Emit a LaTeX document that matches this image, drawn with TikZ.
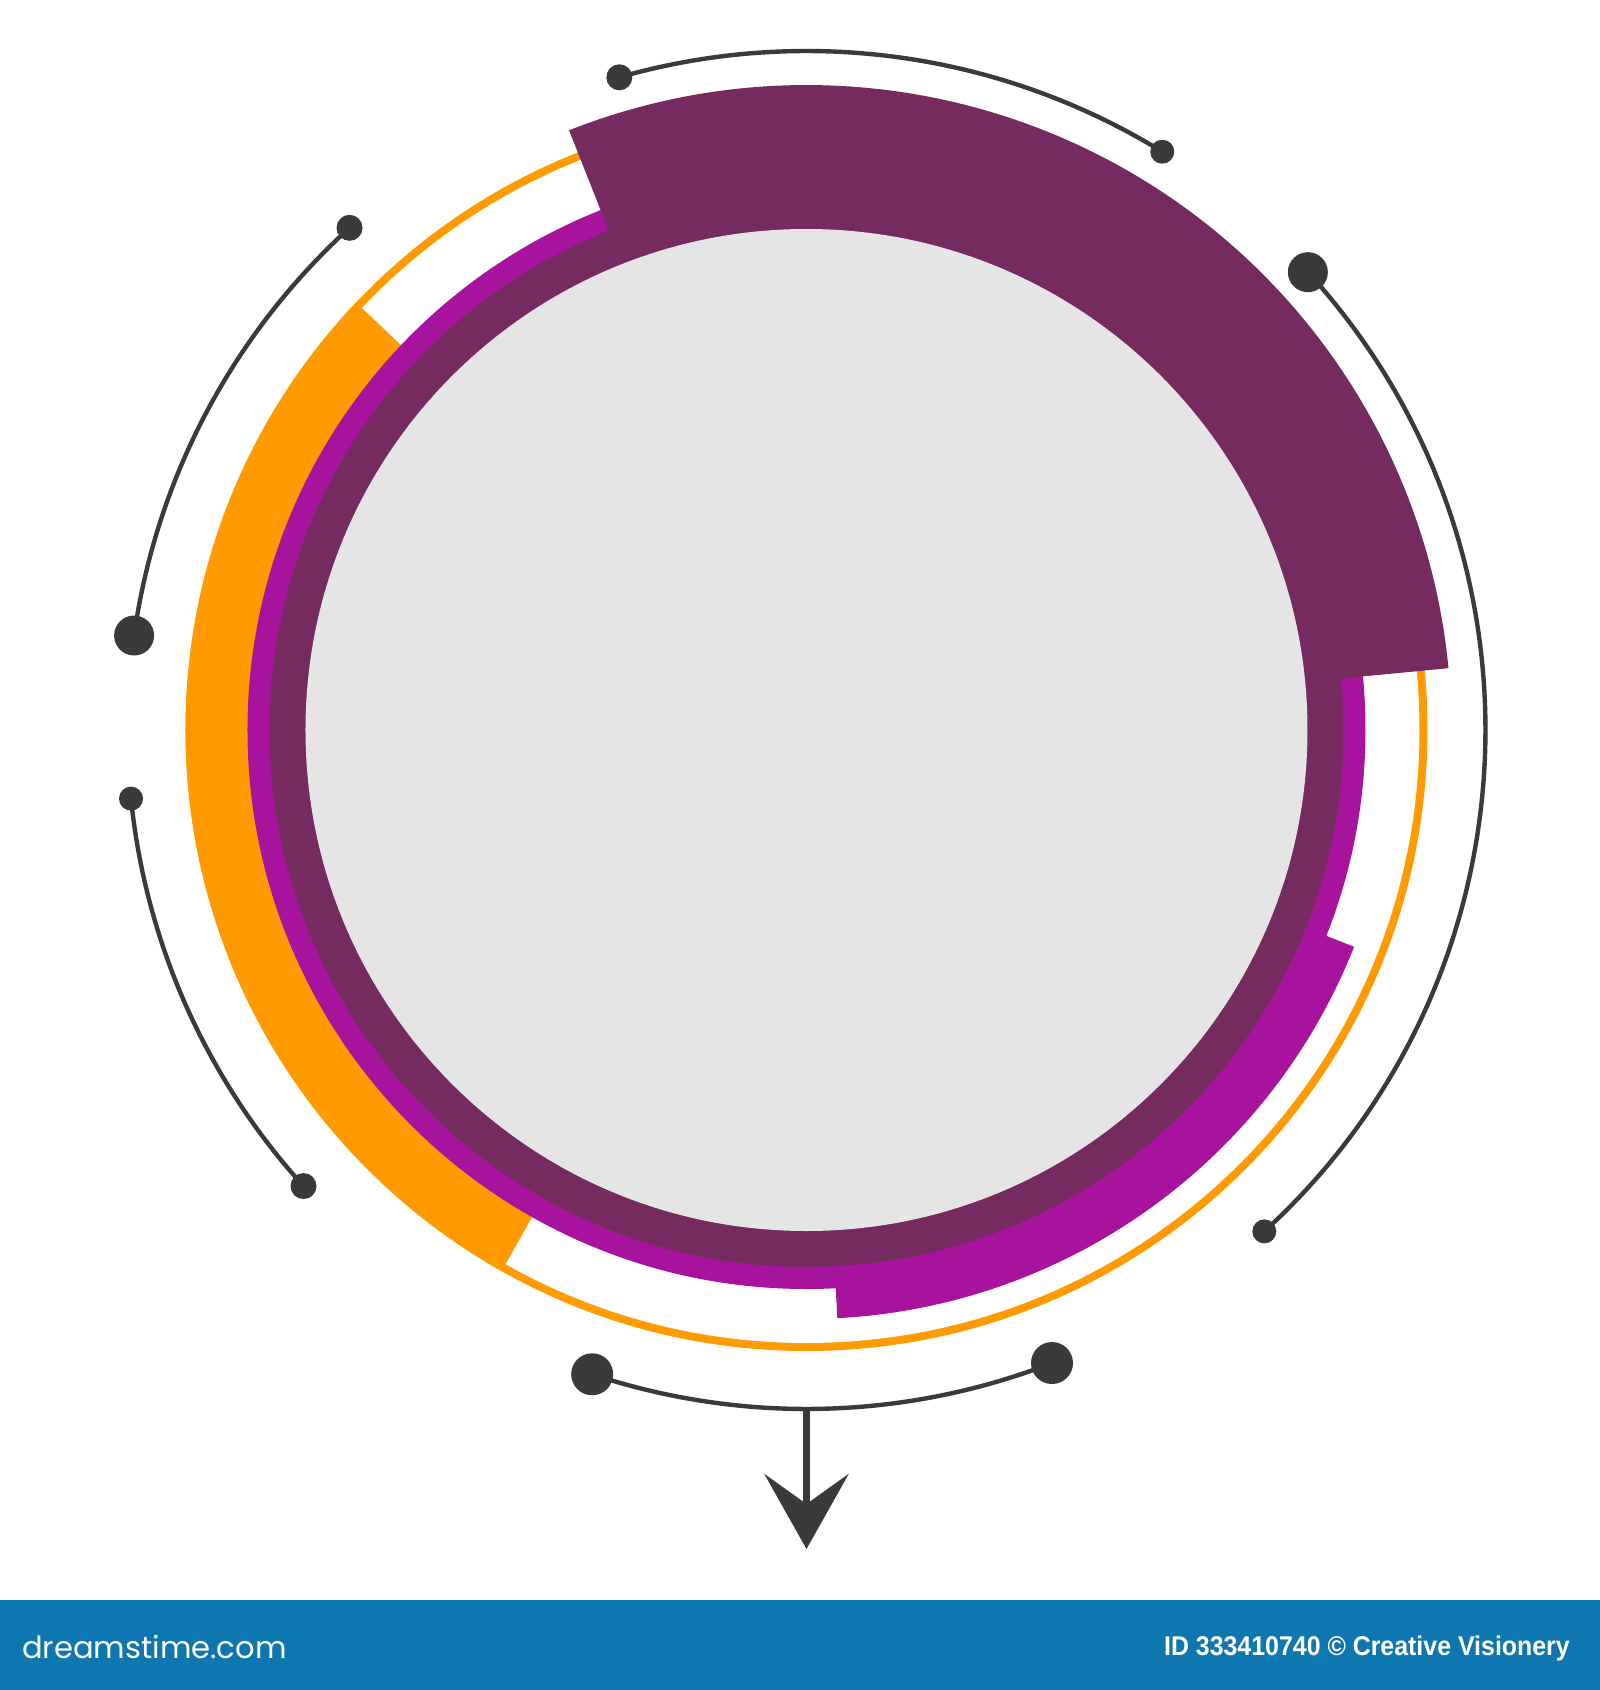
\documentclass[tikz,border=0pt]{standalone}
\usepackage{fontspec}
\usepackage{graphicx}
\usepackage{tikz}
\usetikzlibrary{arrows.meta}
\newfontfamily\logofont{Poppins}
\newfontfamily\idfont{Liberation Sans}
\definecolor{ringgray}{HTML}{E5E5E5}
\definecolor{plum}{HTML}{752A60}
\definecolor{mag}{HTML}{A8139E}
\definecolor{amber}{HTML}{FF9A00}
\definecolor{ink}{HTML}{3A3A3A}
\definecolor{barblue}{HTML}{0F77B0}

\begin{document}
\begin{tikzpicture}[x=0.01cm,y=0.01cm,wire/.style={ink,line width=1.25pt}]
        \useasboundingbox (-806.5,-960) rectangle (793.5,730);
        \fill[amber](0,0)circle(621);
        \fill[white](0,0)circle(613);
        \fill[amber](0,0)--(136.5:621)arc[start angle=136.5,end angle=240.6,radius=621]--cycle;
        \fill[mag](0,0)--(-87:589)arc[start angle=-87,end angle=-21.6,radius=589]--cycle;
        \fill[mag](0,0)circle(559);
        \fill[plum](0,0)circle(537);
        \fill[plum](0,0)--(5.5:645)arc[start angle=5.5,end angle=111.6,radius=645]--cycle;
        \fill[ringgray](0,0)circle(501);
        \draw[wire](106:679)arc[start angle=106,end angle=58.4,radius=679];
        \fill[ink](106:679)circle(13)(58.4:679)circle(12);
        \draw[wire](42.4:679)arc[start angle=42.4,end angle=-47.6,radius=679];
        \fill[ink](42.4:679)circle(20)(-47.6:679)circle(12);
        \draw[wire](132.3:679)arc[start angle=132.3,end angle=172,radius=679];
        \fill[ink](132.3:679)circle(13)(172:679)circle(20);
        \draw[wire](185.8:679)arc[start angle=185.8,end angle=222.2,radius=679];
        \fill[ink](185.8:679)circle(12)(222.2:679)circle(13);
        \draw[wire](251.6:679)arc[start angle=251.6,end angle=291.2,radius=679];
        \fill[ink](251.6:679)circle(21)(291.2:679)circle(21);
        \coordinate(mid)at(270:679);
        \coordinate(tip)at(0,-819);
        \draw[ink,line width=1.8pt,-{Stealth[length=21.3pt,width=23.9pt,inset=8.5pt]}](mid)--(tip);
        \fill[barblue](-806.5,-960)rectangle(793.5,-870);
        \node[anchor=base west,inner sep=0,text=white,font=\logofont\fontsize{8.7pt}{9pt}\selectfont](logo)at(-785,-928){dreamstime.com};
        \node[anchor=base east,inner sep=0,text=white,font=\idfont\bfseries\fontsize{7.7pt}{8pt}\selectfont](credit)at(764,-925){\scalebox{0.92}[1]{ID 333410740 © Creative Visionery}};
\end{tikzpicture}
\end{document}
